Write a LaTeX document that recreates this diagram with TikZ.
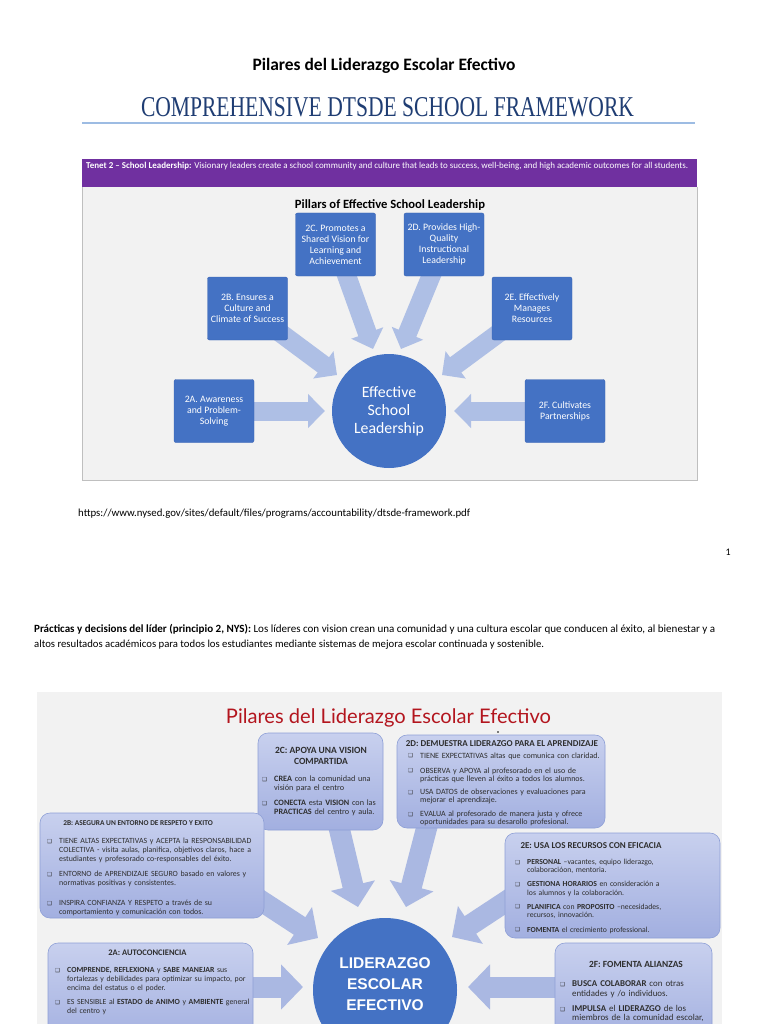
\documentclass[tikz,border=0pt]{standalone}
\usepackage{fontspec}
\usepackage{graphicx}
\setmainfont{Carlito}
\newfontfamily\serifT{Liberation Serif}
\newfontfamily\gillF{Lato}
\newfontfamily\arialF{Liberation Sans}
\newfontfamily\dejavu{DejaVu Sans}
\usetikzlibrary{arrows.meta}
\definecolor{tblue}{HTML}{4472C4}
\definecolor{tbord}{HTML}{3B65B3}
\definecolor{tarr}{HTML}{AEBFE5}
\definecolor{navy}{HTML}{1F3D73}
\definecolor{rule}{HTML}{9DBCE3}
\definecolor{purp}{HTML}{7030A0}
\definecolor{panel}{HTML}{F2F2F2}
\definecolor{pbord}{HTML}{BFBFBF}
\definecolor{barr}{HTML}{AAB8E2}
\definecolor{btop}{HTML}{C8D0EE}
\definecolor{bbot}{HTML}{A2AFE0}
\definecolor{bbord}{HTML}{8E9FD6}
\definecolor{btext}{HTML}{2E2E2E}
\definecolor{dred}{HTML}{B3151E}
\newlength{\bind}\setlength{\bind}{12pt}
\newcommand{\chk}{\raisebox{0.2pt}{\dejavu\fontsize{5.5}{5.5}\selectfont ❑}}
\newcommand{\itm}[2][5.5pt]{\par\vspace{#1}\hangindent=\bind\hangafter=1\noindent\makebox[\bind][l]{\chk}#2}
\newcommand{\fs}[2]{\fontsize{#1}{#2}\selectfont\lineskiplimit=-10pt\lineskip=0pt}
\pgfdeclarelayer{bg}\pgfdeclarelayer{arr}\pgfsetlayers{bg,arr,main}
\begin{document}
\begin{tikzpicture}[x=1pt,y=-1pt,
  tbox/.style={draw=tbord,fill=tblue,rounded corners=2pt,minimum width=80pt,minimum height=63pt,align=center,text=white,font=\fs{9.8}{11},inner sep=2pt},
  tarrow/.style={draw=tarr,line width=19pt,-{Triangle[width=33pt,length=17pt]}},
  barrow/.style={draw=barr,line width=21pt,-{Triangle[width=44pt,length=22pt]}},
  bbox/.style={draw=bbord,line width=0.6pt,rounded corners=10pt,top color=btop,bottom color=bbot},
  btxt/.style={anchor=north west,inner sep=0pt,text width=300pt,align=left,text=btext},
  bhd/.style={anchor=north,inner sep=0pt,align=center,text=btext},
  plain/.style={inner sep=0pt,anchor=base}]
\useasboundingbox (0,0) rectangle (768,1024);
\begin{pgfonlayer}{bg}
\fill[white] (0,0) rectangle (768,1024);
\fill[panel] (82,187) rectangle (697,480);
\draw[pbord,line width=0.8pt] (82,187) -- (82,480) -- (697,480) -- (697,187);
\fill[purp] (82,159) rectangle (697,187);
\fill[panel] (37,692) rectangle (722,1030);
\end{pgfonlayer}
% page texts
\node[plain] (ptitle) at (384,71) {\resizebox{263pt}{!}{\bfseries Pilares del Liderazgo Escolar Efectivo}};
\node[plain,text=navy] (ctitle) at (387.5,117) {\resizebox{493pt}{19pt}{\serifT COMPREHENSIVE DTSDE SCHOOL FRAMEWORK}};
\draw[rule,line width=1.2pt] (82,123) -- (695,123);
\node[plain,anchor=base west,text=white] (tenet) at (86,169) {\resizebox{602pt}{!}{\fontsize{8}{9}\selectfont\textbf{Tenet 2 – School Leadership:} Visionary leaders create a school community and culture that leads to success, well-being, and high academic outcomes for all students.}};
\node[plain] (pillars) at (390,209) {\resizebox{190pt}{!}{\bfseries Pillars of Effective School Leadership}};
% top diagram
\node[tbox] (t2C) at (335.5,244.5) {2C. Promotes a\\Shared Vision for\\Learning and\\Achievement};
\node[tbox] (t2D) at (444,244.5) {2D. Provides High-\\Quality\\Instructional\\Leadership};
\node[tbox] (t2B) at (247.5,308.5) {2B. Ensures a\\Culture and\\Climate of Success};
\node[tbox] (t2E) at (532,308.5) {2E. Effectively\\Manages\\Resources};
\node[tbox] (t2A) at (214,411) {2A. Awareness\\and Problem-\\Solving};
\node[tbox] (t2F) at (565,411) {2F. Cultivates\\Partnerships};
\node[circle,fill=tblue,minimum size=114pt,inner sep=0pt,text=white,align=center,font=\fs{15.8}{18}] (tc) at (389,411) {Effective\\School\\Leadership};
\coordinate (tp2A) at (325,411);
\coordinate (tp2F) at (454,411);
\coordinate (tp2B) at (337,375);
\coordinate (tp2E) at (442,375);
\coordinate (tp2C) at (373,349);
\coordinate (tp2D) at (401,349);
\begin{pgfonlayer}{arr}
\draw[tarrow] (t2A.center) -- (tp2A);
\draw[tarrow] (t2F.center) -- (tp2F);
\draw[tarrow] (t2B.center) -- (tp2B);
\draw[tarrow] (t2E.center) -- (tp2E);
\draw[tarrow] (t2C.center) -- (tp2C);
\draw[tarrow] (t2D.center) -- (tp2D);
\end{pgfonlayer}
% url, page number, paragraph
\node[plain,anchor=base west] (url) at (78,516) {\resizebox{392pt}{!}{https://www.nysed.gov/sites/default/files/programs/accountability/dtsde-framework.pdf}};
\node[plain,anchor=base east,font=\fontsize{10}{12}\selectfont] (pnum) at (731,555) {1};
\node[plain,anchor=base west] (par1) at (34,632) {\resizebox{681pt}{!}{\textbf{Prácticas y decisions del líder (principio 2, NYS):} Los líderes con vision crean una comunidad y una cultura escolar que conducen al éxito, al bienestar y a}};
\node[plain,anchor=base west] (par2) at (34,647) {\resizebox{510pt}{!}{altos resultados académicos para todos los estudiantes mediante sistemas de mejora escolar continuada y sostenible.}};
% bottom diagram
\node[plain,text=dred] (btitle) at (388.5,723) {\resizebox{325pt}{!}{\gillF Pilares del Liderazgo Escolar Efectivo}};
\node[circle,fill=black,inner sep=0.6pt] (dot) at (498,732) {};
\path[bbox] (258,733) rectangle (383,830) node[midway] (b2C) {};
\path[bbox] (397,735) rectangle (605,828) node[midway] (b2D) {};
\path[bbox] (40,813) rectangle (264,918) node[midway] (b2B) {};
\path[bbox] (505,833) rectangle (720,938) node[midway] (b2E) {};
\path[bbox] (48,943) rectangle (253,1045) node[midway] (b2A) {};
\path[bbox] (555,943) rectangle (712,1045) node[midway] (b2F) {};
\node[circle,fill=tblue,minimum size=144pt,inner sep=0pt] (bc) at (385,990) {};
\node[inner sep=0pt,text=white,align=center,font=\arialF\bfseries\fs{15.5}{21}] (bct) at (385,984) {LIDERAZGO\\ESCOLAR\\EFECTIVO};
% bottom box texts
\node[bhd,font=\bfseries\fs{9.5}{11}] (h2C) at (321,747.5) {2C: APOYA UNA VISION\\COMPARTIDA};
\node[btxt,font=\fs{8.2}{9.3}] (x2C) at (262,772) {%
\itm[0pt]{\textbf{CREA} con la comunidad una\newline visión para el centro}%
\itm{\textbf{CONECTA} esta \textbf{VISION} con las\newline \textbf{PRACTICAS} del centro y aula.}\par};
\node[bhd,font=\bfseries\fs{9}{10}] (h2D) at (502,740) {2D: DEMUESTRA LIDERAZGO PARA EL APRENDIZAJE};
\node[btxt,font=\fs{8}{8.3}] (x2D) at (408,749.5) {%
\itm[0pt]{TIENE EXPECTATIVAS altas que comunica con claridad.}%
\itm[6.7pt]{OBSERVA y APOYA al profesorado en el uso de\newline prácticas que lleven al éxito a todos los alumnos.}%
\itm[4.7pt]{USA DATOS de observaciones y evaluaciones para\newline mejorar el aprendizaje.}%
\itm[5.7pt]{EVALUA al profesorado de manera justa y ofrece\newline oportunidades para su desarollo profesional.}\par};
\node[bhd,font=\bfseries\fs{7.4}{9}] (h2B) at (138,820.5) {2B: ASEGURA UN ENTORNO DE RESPETO Y EXITO};
\node[btxt,font=\fs{7.9}{9}] (x2B) at (47,834.5) {%
\itm[0pt]{TIENE ALTAS EXPECTATIVAS y ACEPTA la RESPONSABILIDAD\newline COLECTIVA - visita aulas, planifica, objetivos claros, hace a\newline estudiantes y profesorado co-responsables del éxito.}%
\itm[6pt]{ENTORNO de APRENDIZAJE SEGURO basado en valores y\newline normativas positivas y consistentes.}%
\itm[11pt]{INSPIRA CONFIANZA Y RESPETO a través de su\newline comportamiento y comunicación con todos.}\par};
\node[bhd,font=\bfseries\fs{9}{10}] (h2E) at (591,842) {2E: USA LOS RECURSOS CON EFICACIA};
\node[btxt,font=\fs{7.7}{8.1}] (x2E) at (515,856.5) {%
\itm[0pt]{\textbf{PERSONAL} –vacantes, equipo liderazgo,\newline colaboracióon, mentoria.}%
\itm[5.9pt]{\textbf{GESTIONA HORARIOS} en consideración a\newline los alumnos y la colaboración.}%
\itm[5.9pt]{\textbf{PLANIFICA} con \textbf{PROPOSITO} –necesidades,\newline recursos, innovación.}%
\itm[6.9pt]{\textbf{FOMENTA} el crecimiento professional.}\par};
\node[bhd,font=\bfseries\fs{8.5}{10}] (h2A) at (147.5,950) {2A: AUTOCONCIENCIA};
\node[btxt,font=\fs{7.8}{9}] (x2A) at (55,963.6) {%
\itm[0pt]{\textbf{COMPRENDE, REFLEXIONA} y \textbf{SABE MANEJAR} sus\newline fortalezas y debilidades para optimizar su impacto, por\newline encima del estatus o el poder.}%
\itm[5pt]{ES SENSIBLE al \textbf{ESTADO de ANIMO} y \textbf{AMBIENTE} general\newline del centro y}\par};
\node[bhd,font=\bfseries\fs{9.4}{10}] (h2F) at (636,961) {2F: FOMENTA ALIANZAS};
\node[btxt,font=\fs{8.9}{9.5}] (x2F) at (560,977) {%
\itm[0pt]{\textbf{BUSCA COLABORAR} con otras\newline entidades y /o individuos.}%
\itm[5.5pt]{\textbf{IMPULSA} el \textbf{LIDERAZGO} de los\newline miembros de la comunidad escolar,}\par};
% bottom arrows
\coordinate (bp2A) at (303,987);
\coordinate (bp2F) at (468,987);
\coordinate (bp2B) at (318,938);
\coordinate (bp2E) at (452,937);
\coordinate (bp2C) at (358,907);
\coordinate (bp2D) at (406,907);
\coordinate (bs2A) at (240,987);
\coordinate (bs2F) at (570,987);
\coordinate (bs2B) at (240,887);
\coordinate (bs2E) at (528,887);
\coordinate (bs2C) at (336,815);
\coordinate (bs2D) at (430,815);
\begin{pgfonlayer}{arr}
\draw[barrow] (bs2A) -- (bp2A);
\draw[barrow] (bs2F) -- (bp2F);
\draw[barrow] (bs2B) -- (bp2B);
\draw[barrow] (bs2E) -- (bp2E);
\draw[barrow] (bs2C) -- (bp2C);
\draw[barrow] (bs2D) -- (bp2D);
\end{pgfonlayer}
\end{tikzpicture}
\end{document}
